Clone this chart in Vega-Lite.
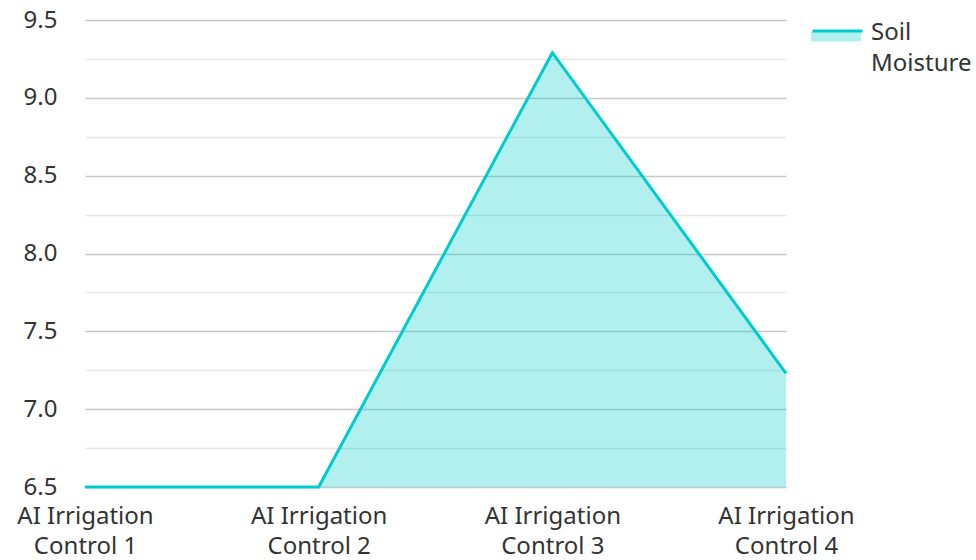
{
  "$schema": "https://vega.github.io/schema/vega-lite/v6.json",
  "width": 701,
  "height": 467,
  "autosize": {"type": "none"},
  "padding": {"left": 85, "top": 20, "right": 190, "bottom": 73},
  "background": "white",
  "config": {
    "view": {"stroke": null},
    "font": "Noto Sans",
    "axis": {"labelFont": "Noto Sans", "labelColor": "#333333", "labelFontSize": 24},
    "legend": {"labelFont": "Noto Sans", "labelColor": "#333333", "labelFontSize": 24}
  },
  "data": {
    "values": [
      {"control": "AI Irrigation Control 1", "moisture": 6.5, "series": "Soil Moisture"},
      {"control": "AI Irrigation Control 2", "moisture": 6.5, "series": "Soil Moisture"},
      {"control": "AI Irrigation Control 3", "moisture": 9.29, "series": "Soil Moisture"},
      {"control": "AI Irrigation Control 4", "moisture": 7.23, "series": "Soil Moisture"}
    ]
  },
  "encoding": {
    "x": {
      "field": "control",
      "type": "ordinal",
      "scale": {"type": "point", "padding": 0},
      "axis": {
        "title": null,
        "labelAngle": 0,
        "domain": false,
        "ticks": false,
        "grid": false,
        "labelPadding": 17,
        "labelLineHeight": 30,
        "labelExpr": "[slice(datum.label, 0, 13), slice(datum.label, 14)]"
      }
    },
    "y": {
      "field": "moisture",
      "type": "quantitative",
      "scale": {"domain": [6.5, 9.5], "nice": false, "zero": false},
      "axis": {
        "title": null,
        "domain": false,
        "ticks": false,
        "labelPadding": 28,
        "values": [6.5, 6.75, 7.0, 7.25, 7.5, 7.75, 8.0, 8.25, 8.5, 8.75, 9.0, 9.25, 9.5],
        "labelExpr": "(datum.value * 2) % 1 == 0 ? format(datum.value, '.1f') : ''",
        "gridColor": {"condition": {"test": "(datum.value * 2) % 1 == 0", "value": "#c8c8c8"}, "value": "#e6e6e6"},
        "gridWidth": 1.3
      }
    }
  },
  "layer": [
    {
      "mark": {"type": "area", "fillOpacity": 0.3},
      "encoding": {
        "y2": {"datum": 6.5},
        "fill": {
          "field": "series",
          "type": "nominal",
          "scale": {"range": ["#00cccc"]},
          "legend": {
            "title": null,
            "orient": "none",
            "legendX": 726,
            "legendY": -12,
            "symbolType": "M-1,-0.06H1V0.34H-1Z",
            "symbolSize": 2500,
            "symbolOpacity": 0.3,
            "symbolStrokeWidth": 0,
            "labelOffset": 10,
            "labelExpr": "['Soil', 'Moisture']",
            "encode": {"labels": {"update": {"lineHeight": {"value": 31}}}}
          }
        }
      }
    },
    {
      "mark": {"type": "line", "strokeWidth": 3, "clip": false},
      "encoding": {
        "stroke": {
          "field": "series",
          "type": "nominal",
          "scale": {"domain": ["Soil Moisture"], "range": ["#00cccc"]},
          "legend": {
            "title": null,
            "orient": "none",
            "legendX": 726,
            "legendY": -12,
            "symbolType": "M-1,-0.14H1",
            "symbolSize": 2500,
            "symbolStrokeWidth": 3,
            "labelOffset": 10,
            "labelOpacity": 0,
            "labelExpr": "['', '']",
            "encode": {"labels": {"update": {"lineHeight": {"value": 31}}}}
          }
        }
      }
    }
  ]
}
